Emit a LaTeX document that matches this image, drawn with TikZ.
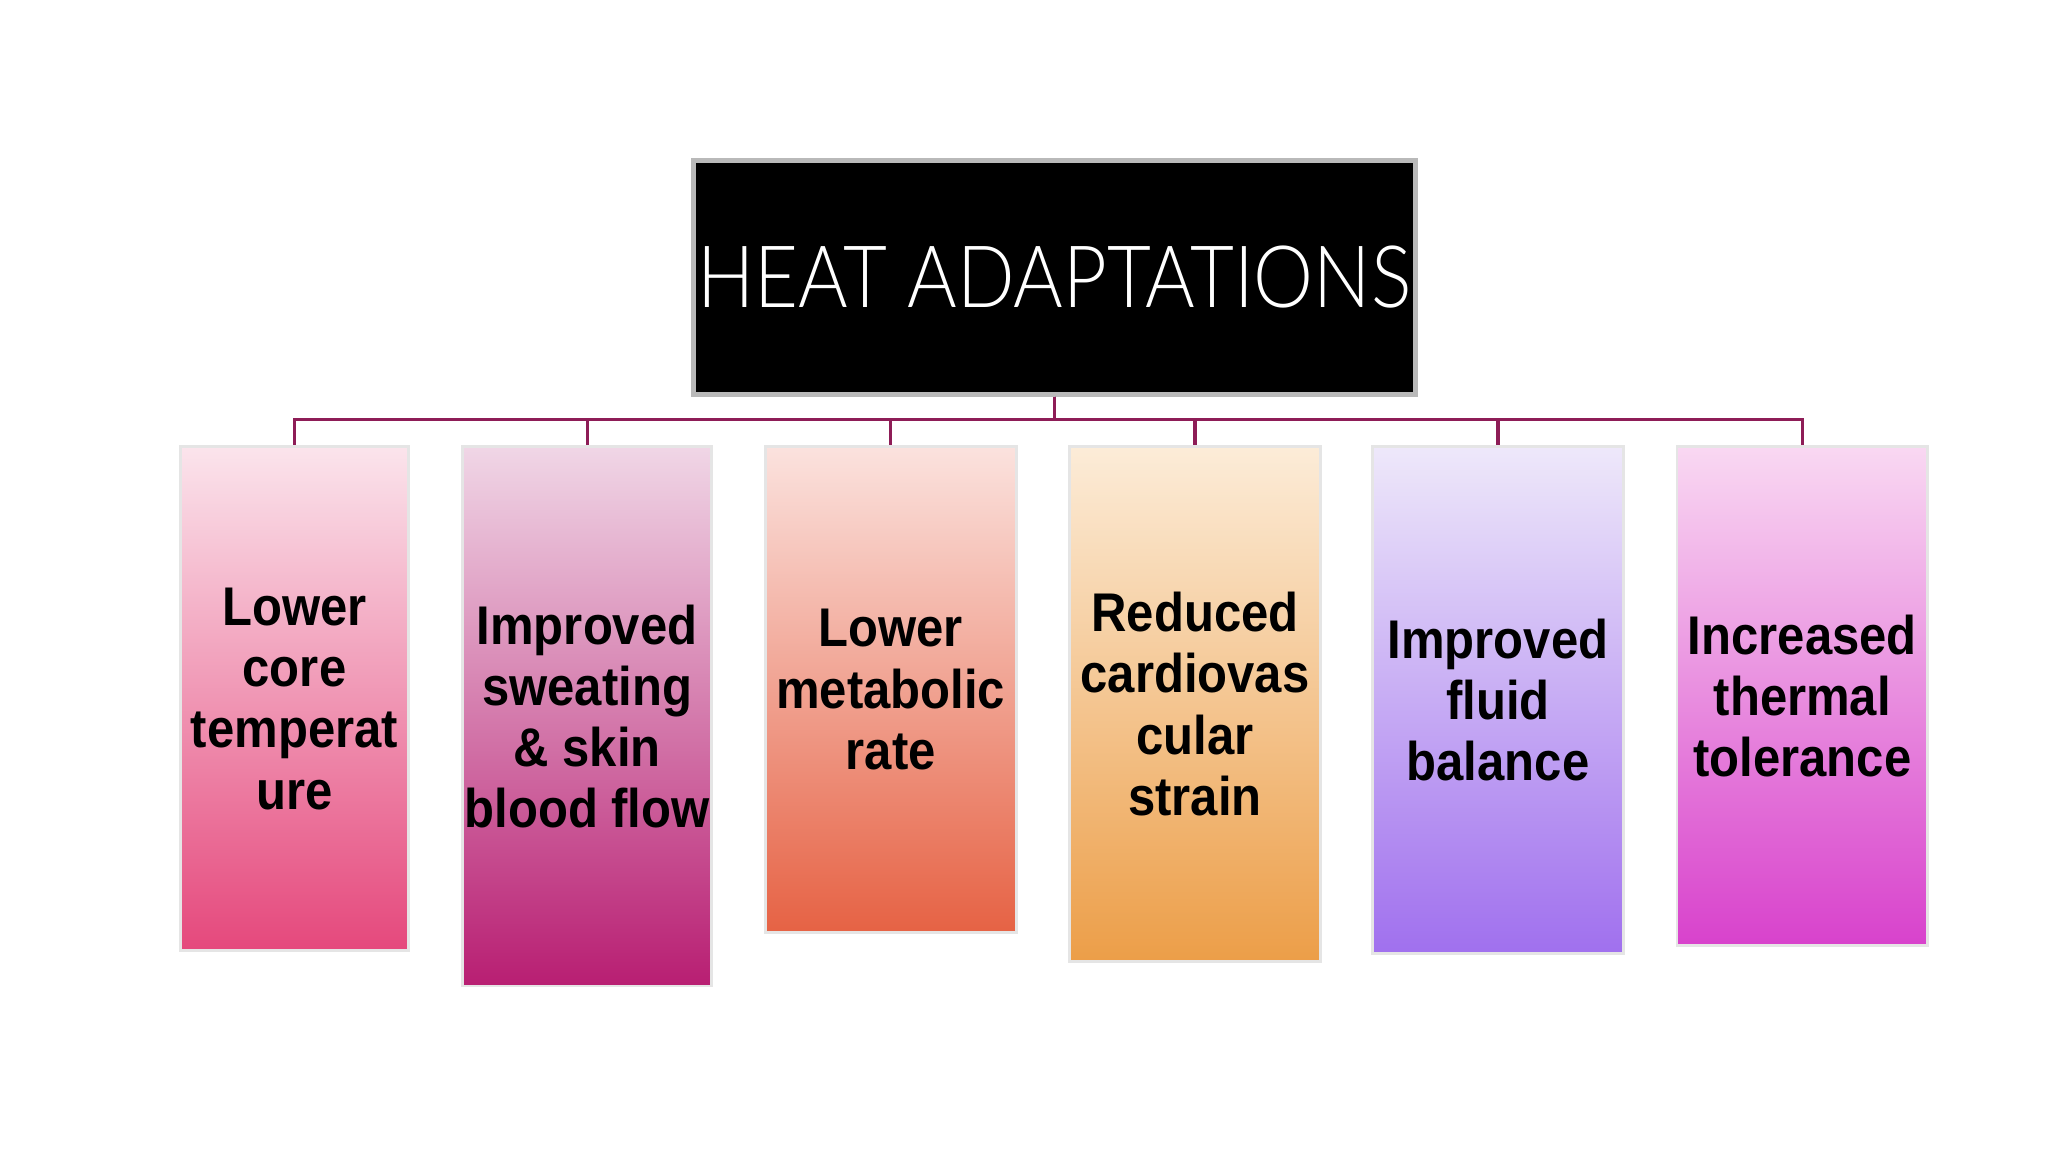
\documentclass[tikz,border=0pt]{standalone}
\usepackage{fontspec}
\setmainfont{Liberation Sans}
\newfontfamily\boxfont[FakeStretch=0.9]{Liberation Sans}
\newfontfamily\headfont[FakeStretch=0.88]{Lato Light}

\definecolor{linkred}{HTML}{8E1D57}

\tikzset{
  headbox/.style={fill=black, draw=gray!55, line width=1.2pt,
    minimum width=7.22cm, minimum height=2.34cm, inner sep=0pt,
    text=white, font=\headfont\fontsize{24.5}{28}\selectfont},
  itembox/.style={draw=white!80!gray, line width=0.8pt, inner sep=0pt,
    minimum width=2.5cm, align=center,
    font=\boxfont\bfseries\fontsize{15.5}{17.4}\selectfont},
  link/.style={draw=linkred, line width=0.9pt}
}

\begin{document}
\begin{tikzpicture}[x=1cm, y=-1cm]
\useasboundingbox (0,0) rectangle (20.48,11.52);

\node[headbox] (head) at (10.546,2.775) {HEAT ADAPTATIONS};

\coordinate (bus) at (10.546,4.192);

\node[itembox, minimum width=2.286cm, minimum height=5.041cm,
  top color={rgb,255:red,251;green,228;blue,236}, bottom color={rgb,255:red,229;green,72;blue,124}]
  (core) at (2.945,6.988) {Lower\\core\\temperat\\ure};
\node[itembox, minimum width=2.495cm, minimum height=5.393cm,
  top color={rgb,255:red,240;green,214;blue,230}, bottom color={rgb,255:red,184;green,30;blue,114}]
  (sweat) at (5.871,7.164) {Improved\\sweating\\\& skin\\blood flow};
\node[itembox, minimum width=2.508cm, minimum height=4.858cm,
  top color={rgb,255:red,251;green,226;blue,222}, bottom color={rgb,255:red,230;green,98;blue,68}]
  (meta) at (8.907,6.896) {Lower\\metabolic\\rate};
\node[itembox, minimum width=2.508cm, minimum height=5.145cm,
  top color={rgb,255:red,252;green,236;blue,216}, bottom color={rgb,255:red,236;green,158;blue,72}]
  (cardio) at (11.950,7.040) {Reduced\\cardiovas\\cular\\strain};
\node[itembox, minimum width=2.508cm, minimum height=5.067cm,
  top color={rgb,255:red,238;green,232;blue,250}, bottom color={rgb,255:red,160;green,112;blue,238}]
  (fluid) at (14.980,7.001) {Improved\\fluid\\balance};
\node[itembox, minimum width=2.508cm, minimum height=4.988cm,
  top color={rgb,255:red,249;green,216;blue,242}, bottom color={rgb,255:red,216;green,66;blue,204}]
  (thermal) at (18.023,6.961) {Increased\\thermal\\tolerance};

% tree lines
\foreach \n in {core,sweat,meta,cardio,fluid,thermal}
  \draw[link] (head.south) -- (head.south |- bus) -| (\n.north);
\end{tikzpicture}
\end{document}
